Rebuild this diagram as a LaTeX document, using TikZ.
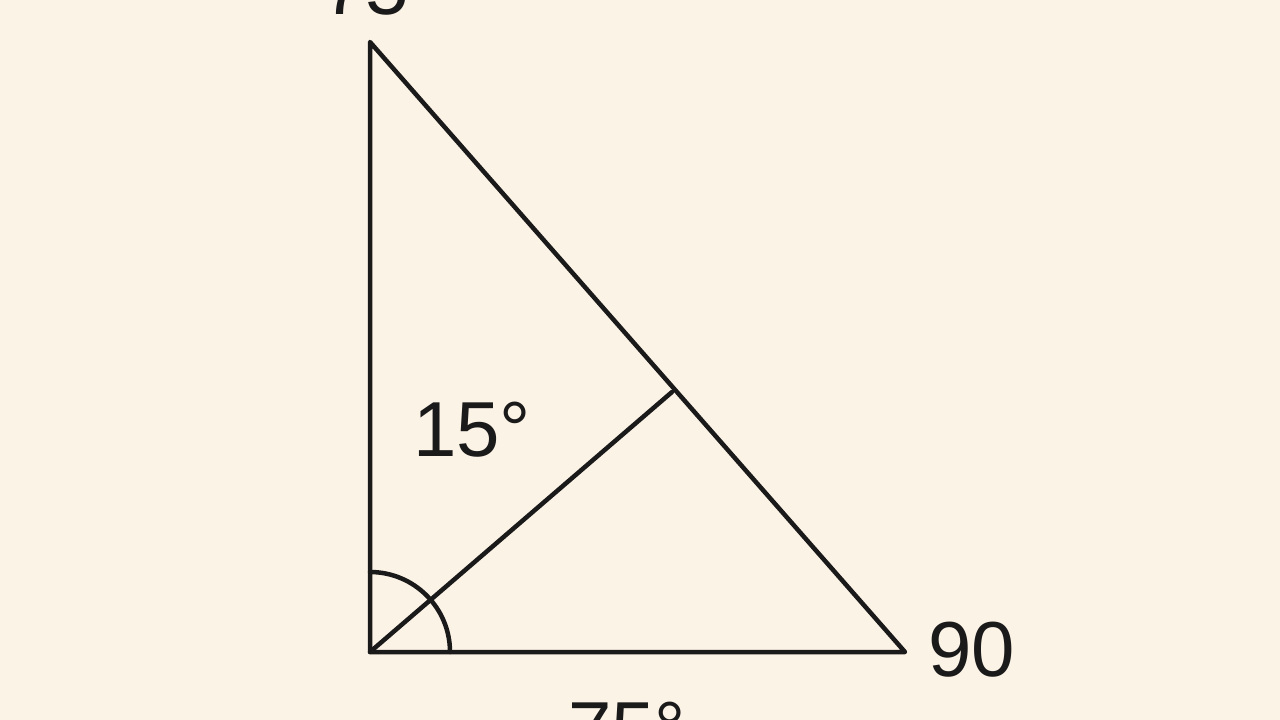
\documentclass[tikz,border=0pt]{standalone}
\usepackage{fontspec}
\setmainfont{Liberation Sans}
\definecolor{bg}{HTML}{FCF3E7}
\definecolor{ink}{HTML}{1A1A1A}
\begin{document}
\begin{tikzpicture}[x=1pt,y=-1pt,
  edge/.style={draw=ink,line width=4.5pt,line join=round,line cap=round},
  lbl/.style={inner sep=0pt,anchor=base west,text=ink,font=\fontsize{78}{94}\selectfont}]
\fill[bg] (0,0) rectangle (1280,720);
\useasboundingbox (0,0) rectangle (1280,720);
\coordinate (A) at (370,42);
\coordinate (B) at (370,652);
\coordinate (C) at (905,652);
\coordinate (D) at (672,392);
\draw[edge] (A) -- (B) -- (C) -- cycle;
\draw[edge] (B) -- (D);
\draw[edge] (370,572) arc[start angle=270,end angle=360,radius=80];
\node[lbl] (t75) at (322,14) {75};
\node[lbl] (t15) at (413,456) {15°};
\node[lbl] (t90) at (928,676) {90};
\node[lbl] (b75) at (568,756) {75°};
\end{tikzpicture}
\end{document}
